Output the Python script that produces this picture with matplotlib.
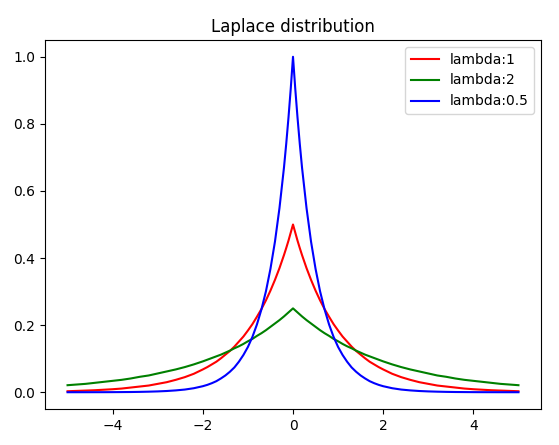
import matplotlib
matplotlib.use("Agg")
import matplotlib.pyplot as plt
import numpy as np

# half-side samples (x >= 0); the curves are symmetric
x_half = [0.0, 0.05, 0.1, 0.15, 0.2, 0.3, 0.4, 0.5, 0.6, 0.7, 0.8, 0.9, 1.0,
          1.1, 1.2, 1.3, 1.4, 1.5, 1.6, 1.7, 1.8, 1.9, 2.0,
          2.2, 2.4, 2.6, 2.8, 3.0, 3.2, 3.4, 3.6, 3.8, 4.0, 4.2, 4.4, 4.6,
          4.8, 5.0]
lambda_1 = [0.500, 0.476, 0.452, 0.430, 0.409, 0.370, 0.335, 0.303, 0.274,
            0.248, 0.225, 0.203, 0.184, 0.166, 0.151, 0.136, 0.123, 0.112,
            0.101, 0.091, 0.083, 0.075, 0.068,
            0.055, 0.045, 0.037, 0.030, 0.025, 0.020, 0.017, 0.014, 0.011,
            0.009, 0.0075, 0.006, 0.005, 0.004, 0.003]
lambda_2 = [0.250, 0.244, 0.238, 0.232, 0.226, 0.215, 0.205, 0.195, 0.185,
            0.176, 0.168, 0.159, 0.152, 0.144, 0.137, 0.131, 0.124, 0.118,
            0.112, 0.107, 0.102, 0.097, 0.092,
            0.083, 0.075, 0.068, 0.062, 0.056, 0.050, 0.046, 0.041, 0.037,
            0.034, 0.031, 0.028, 0.025, 0.023, 0.021]
lambda_05 = [1.000, 0.905, 0.819, 0.741, 0.670, 0.549, 0.449, 0.368, 0.301,
             0.247, 0.202, 0.165, 0.135, 0.111, 0.091, 0.074, 0.061, 0.050,
             0.041, 0.033, 0.027, 0.022, 0.018,
             0.012, 0.008, 0.0055, 0.0037, 0.0025, 0.0017, 0.0011, 0.0007,
             0.0005, 0.0003, 0.0002, 0.00015, 0.0001, 0.00007, 0.00005]
labels = ["lambda:1", "lambda:2", "lambda:0.5"]
colors = ["r", "g", "b"]


def mirror(values):
    values = np.asarray(values)
    return np.concatenate([values[:0:-1], values])


x = np.concatenate([-np.asarray(x_half)[:0:-1], np.asarray(x_half)])

fig = plt.figure(figsize=(5.59, 4.45), dpi=100)
ax = fig.add_axes([45 / 559, 36 / 445, 496 / 559, 369 / 445])
for series, label, color in zip([lambda_1, lambda_2, lambda_05], labels, colors):
    ax.plot(x, mirror(series), color=color, label=label)
ax.set_title("Laplace distribution")
ax.legend(loc="upper right")
fig.savefig("out.png", dpi=100)
